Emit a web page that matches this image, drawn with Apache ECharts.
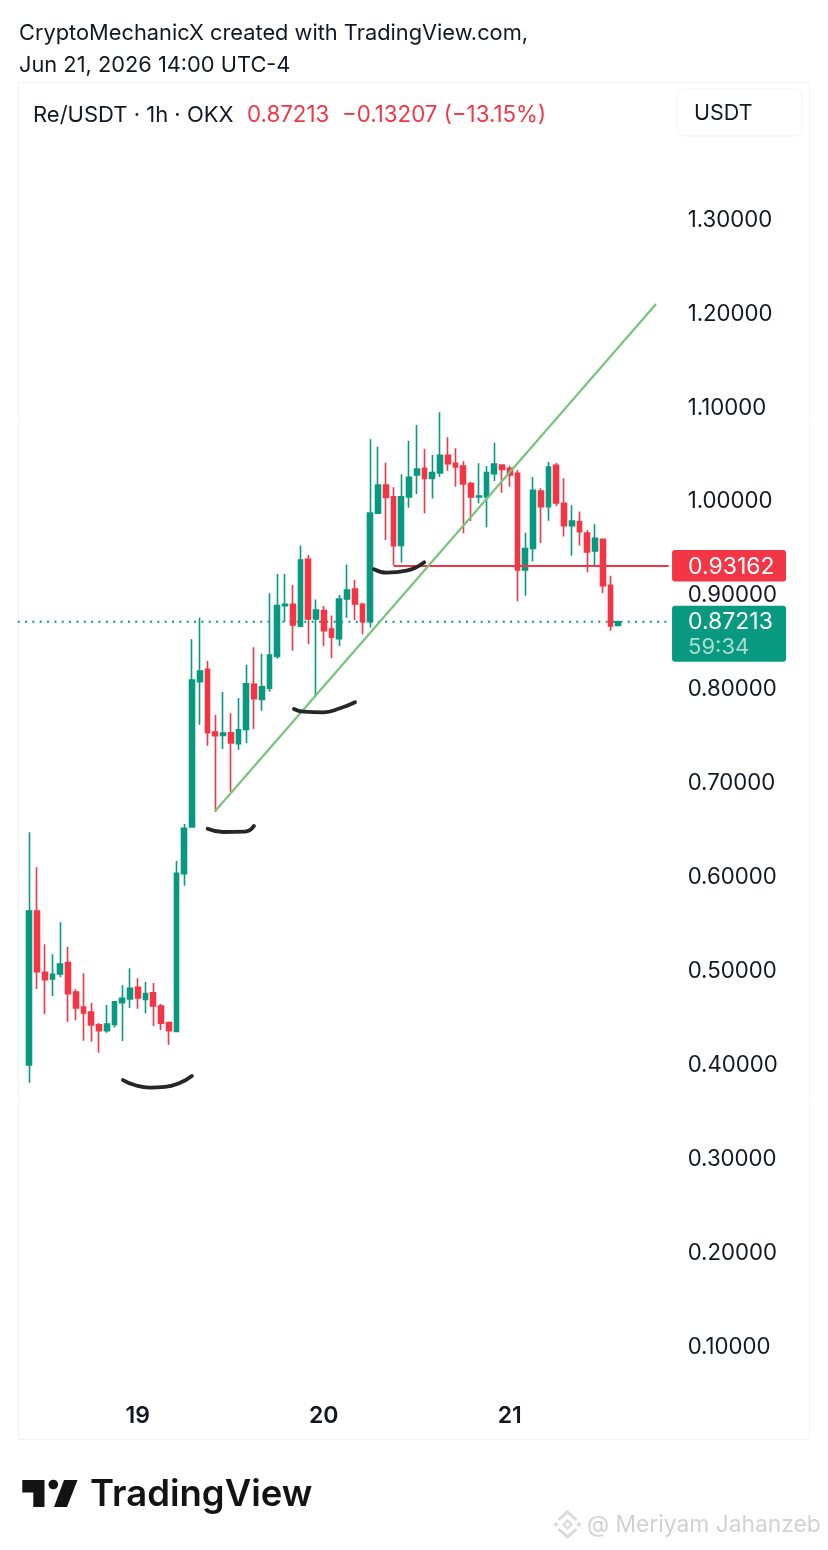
<!DOCTYPE html>
<html><head><meta charset="utf-8">
<style>html,body{margin:0;padding:0;background:#fff}#c{width:828px;height:1550px}</style>
<script src="https://cdn.jsdelivr.net/npm/echarts@6/dist/echarts.min.js"></script>
</head><body><div id="c"></div>
<script>
const opens=[.4003,.5643,.4990,.4919,.4972,.5093,.4780,.4621,.4567,.4432,
.4369,.4436,.4667,.4706,.4830,.4702,.4773,.4631,.4454,.4361,
.6040,.6537,.8084,.8216,.7549,.7513,.7541,.7424,.7577,.8056,
.7896,.8014,.8354,.8894,.8908,.8674,.9387,.8752,.8841,.8646,
.8543,.8965,.9071,.8908,.8723,.9877,1.0179,1.0054,.9536,1.0051,
1.0285,1.0356,1.0249,1.0306,1.0494,1.0409,1.0381,1.0193,1.0051,1.0051,
1.0299,1.0391,1.0356,1.0303,.9274,.9504,1.0115,.9948,1.0388,.9983,
.9746,.9788,.9667,.9476,.9600,.9110,.8684];
const closes=[.5643,.4997,.4912,.4968,.5078,.4763,.4610,.4557,.4429,.4369,
.4440,.4677,.4713,.4819,.4716,.4763,.4631,.4447,.4369,.6044,
.6523,.8102,.8198,.7541,.7509,.7538,.7431,.7573,.8063,.7903,
.8031,.8369,.8894,.8908,.8688,.9380,.8752,.8848,.8628,.8557,
.8965,.9061,.8912,.8723,.9881,1.0179,1.0047,.9533,1.0054,1.0260,
1.0349,1.0249,1.0310,1.0494,1.0405,1.0370,1.0189,1.0051,1.0061,1.0310,
1.0402,1.0345,1.0285,.9274,.9501,1.0122,.9948,1.0370,.9987,.9746,
.9795,.9682,.9465,.9611,.9107,.8677,.87213];
const highs=[.6480,.6108,.5288,.5181,.5522,.5259,.4809,.4979,.4667,.4450,
.4642,.4684,.4851,.5032,.4926,.4887,.4876,.4652,.4464,.6175,
.6569,.8535,.8769,.8305,.7730,.7978,.7747,.7911,.8265,.8450,
.8383,.9025,.9231,.9231,.9114,.9533,.9433,.8958,.8891,.8788,
.9008,.9331,.9168,.8926,1.0665,1.0587,1.0416,1.0154,1.0292,1.0650,
1.0817,1.0565,1.0498,1.0952,1.0686,1.0569,1.0430,1.0214,1.0409,1.0381,
1.0629,1.0398,1.0384,1.0338,.9671,1.0264,1.0143,1.0423,1.0413,1.0249,
.9962,.9895,.9699,.9760,.9600,.9213,.8734];
const lows=[.3815,.4812,.4546,.4738,.4936,.4461,.4479,.4262,.4251,.4134,
.4347,.4401,.4259,.4610,.4603,.4550,.4418,.4376,.4219,.4361,
.5912,.6537,.7627,.7403,.6697,.7368,.6913,.7360,.7431,.7581,
.7776,.7978,.8329,.8723,.8414,.8674,.8485,.7925,.8465,.8333,
.8465,.8766,.8742,.8589,.8660,.9877,.9593,.9327,.9351,.9937,
1.0083,.9877,1.0036,1.0267,1.0331,1.0161,.9664,.9795,.9983,.9728,
1.0221,1.0097,1.0161,.8940,.9000,.9363,.9561,.9799,.9955,.9629,
.9426,.9533,.9249,.9323,.9025,.8627,.8684];
const yTicks=[0.1,0.2,0.3,0.4,0.5,0.6,0.7,0.8,0.9,1.0,1.1,1.2,1.3];
const lastPrice=0.87213, levelPrice=0.93162, levelStart=47, countdown='59:34';
const trendLine=[[24,.6707],[80.87,1.2106]];
const stroke1=[[12.09,.3843],[13.6,.3790],[15.57,.3763],[17.5,.3769],[19.4,.3811],[20.98,.3886]];
const stroke2=[[23.02,.6519],[25,.6484],[27.83,.6487],[29,.6548]];
const stroke3=[[34.15,.7793],[35.35,.7765],[37.94,.7758],[40.1,.7801],[42.03,.7865]];
const stroke4=[[44.48,.9281],[46.1,.9245],[48.7,.9266],[50.97,.9355]];
// hourly labels: first candle is Jun 18 10:00
const days=['18','19','20','21'], firstHour=10, padBefore=1, padAfter=6;
const categories=[''];
opens.forEach((_,i)=>{const h=firstHour+i;categories.push(days[Math.floor(h/24)]+' '+String(h%24).padStart(2,'0')+':00');});
for(let i=0;i<padAfter;i++)categories.push(' ');
const candles=[['-','-','-','-']];
opens.forEach((o,i)=>candles.push([o,closes[i],lows[i],highs[i]]));

const UP='#089981',DOWN='#F23645',INK='#131722',FONT='Inter, "Noto Sans", sans-serif';
const L=17.65,BAND=7.75,R=L+BAND*categories.length;
const T=79.12,B=1394;
const chart=echarts.init(document.getElementById('c'));
function txt(x,y,text,size,fill,extra){return {type:'text',silent:true,x,y,z:20,style:Object.assign({text,fontSize:size,fontFamily:FONT,fill,verticalAlign:'middle'},extra||{})};}
function strokeSeries(d){return {type:'line',xAxisIndex:1,data:d,smooth:true,showSymbol:false,silent:true,z:6,clip:false,lineStyle:{color:'#262626',width:3.8,cap:'round'}};}
function mark(pts){return {type:'polyline',silent:true,shape:{points:pts},style:{fill:null,stroke:'#DADADA',lineWidth:3}};}
chart.setOption({
 animation:false,backgroundColor:'#fff',
 grid:{left:L,top:T,width:R-L,height:B-T},
 xAxis:[
  {type:'category',data:categories,boundaryGap:true,
   axisLine:{show:false},axisTick:{show:false},splitLine:{show:false},
   axisLabel:{margin:11,fontSize:23,fontWeight:600,color:INK,fontFamily:FONT,
     interval:(i,v)=>v.endsWith(' 00:00'),formatter:v=>v.slice(0,2)}},
  {type:'value',show:false,min:-padBefore-0.5,max:opens.length+padAfter-0.5}
 ],
 yAxis:{type:'value',position:'right',min:0.05,max:1.45,
   axisLine:{show:false},axisTick:{show:false},splitLine:{show:false},
   axisLabel:{customValues:yTicks,margin:19,fontSize:22.2,color:INK,fontFamily:FONT,padding:[3,0,0,0],formatter:v=>v.toFixed(5)}},
 series:[
  {type:'custom',xAxisIndex:1,silent:true,z:1,data:[[0,lastPrice]],encode:{x:0,y:1},
   renderItem:(p,api)=>{const y=api.coord([0,lastPrice])[1];const c=p.coordSys;
    return {type:'line',shape:{x1:c.x,y1:y,x2:c.x+c.width,y2:y},style:{stroke:UP,lineWidth:2,lineDash:[2,5.35]}};}},
  {type:'candlestick',data:candles,barWidth:5.4,z:3,silent:true,
   itemStyle:{color:UP,color0:DOWN,borderColor:UP,borderColor0:DOWN,borderWidth:1.6}},
  {type:'line',xAxisIndex:1,data:trendLine,showSymbol:false,silent:true,z:5,lineStyle:{color:'#79C47D',width:2.2}},
  {type:'custom',xAxisIndex:1,silent:true,z:4,data:[[levelStart,levelPrice]],encode:{x:0,y:1},
   renderItem:(p,api)=>{const pt=api.coord([levelStart,levelPrice]);const c=p.coordSys;
    return {type:'line',shape:{x1:pt[0],y1:pt[1],x2:c.x+c.width,y2:pt[1]},style:{stroke:DOWN,lineWidth:2}};}},
  strokeSeries(stroke1),strokeSeries(stroke2),strokeSeries(stroke3),strokeSeries(stroke4),
  {type:'custom',xAxisIndex:1,silent:true,z:8,data:[[0,levelPrice]],encode:{x:0,y:1},
   renderItem:(p,api)=>{const y=api.coord([0,levelPrice])[1];const c=p.coordSys;const x=c.x+c.width+3.4;
    return {type:'group',children:[
      {type:'rect',shape:{x,y:y-16,width:114,height:31.5,r:3},style:{fill:DOWN}},
      {type:'text',x:x+16,y:y+1,style:{text:levelPrice.toFixed(5),fontSize:23,fontFamily:FONT,fill:'#fff',verticalAlign:'middle'}}
    ]};}},
  {type:'custom',xAxisIndex:1,silent:true,z:8,data:[[0,lastPrice]],encode:{x:0,y:1},
   renderItem:(p,api)=>{const y=api.coord([0,lastPrice])[1];const c=p.coordSys;const x=c.x+c.width+3.4;
    return {type:'group',children:[
      {type:'rect',shape:{x,y:y-16,width:114,height:56,r:3},style:{fill:UP}},
      {type:'text',x:x+16,y:y+0.5,style:{text:lastPrice.toFixed(5),fontSize:23,fontFamily:FONT,fill:'#fff',verticalAlign:'middle'}},
      {type:'text',x:x+16,y:y+26,style:{text:countdown,fontSize:22,fontFamily:FONT,fill:'#A9DDD0',verticalAlign:'middle'}}
    ]};}}
 ],
 graphic:[
  {type:'rect',silent:true,z:-1,shape:{x:18.5,y:82.5,width:791,height:1357},style:{fill:'#fff',stroke:'#F0F3FA',lineWidth:1}},
  {type:'rect',silent:true,z:10,shape:{x:677,y:89,width:125,height:47,r:8},style:{fill:'#fff',stroke:'#F0F3FA',lineWidth:1}},
  txt(19,33,'CryptoMechanicX created with TradingView.com,',21.8,INK),
  txt(19,65,'Jun 21, 2026 14:00 UTC-4',21.8,INK),
  txt(33,115,'Re/USDT · 1h · OKX',22,INK),
  txt(247,115,'0.87213',22.3,DOWN),
  txt(342,115,'−0.13207 (−13.15%)',22.3,DOWN),
  txt(694,114,'USDT',21.5,INK),
  {type:'polygon',silent:true,shape:{points:[[22.3,1480],[44.5,1480],[44.5,1507],[33.3,1507],[33.3,1492.5],[22.3,1492.5]]},style:{fill:'#131313'}},
  {type:'circle',silent:true,shape:{cx:53.3,cy:1484.5,r:4.8},style:{fill:'#131313'}},
  {type:'polygon',silent:true,shape:{points:[[64,1480],[77.5,1480],[67,1507],[54,1507]]},style:{fill:'#131313'}},
  txt(90,1495,'TradingView',36.5,'#131313',{fontWeight:600}),
  mark([[558.5,1520],[567.5,1512],[576.5,1520]]),
  mark([[558.5,1529],[567.5,1537],[576.5,1529]]),
  {type:'polygon',silent:true,shape:{points:[[567.5,1520.5],[571.5,1524.5],[567.5,1528.5],[563.5,1524.5]]},style:{fill:'#fff',stroke:'#DADADA',lineWidth:2}},
  {type:'polygon',silent:true,shape:{points:[[556,1522],[558.5,1524.5],[556,1527],[553.5,1524.5]]},style:{fill:'#DADADA'}},
  {type:'polygon',silent:true,shape:{points:[[579,1522],[581.5,1524.5],[579,1527],[576.5,1524.5]]},style:{fill:'#DADADA'}},
  txt(587,1525,'@ Meriyam Jahanzeb',22.8,'#D2D2D2')
 ]
});
</script></body></html>
